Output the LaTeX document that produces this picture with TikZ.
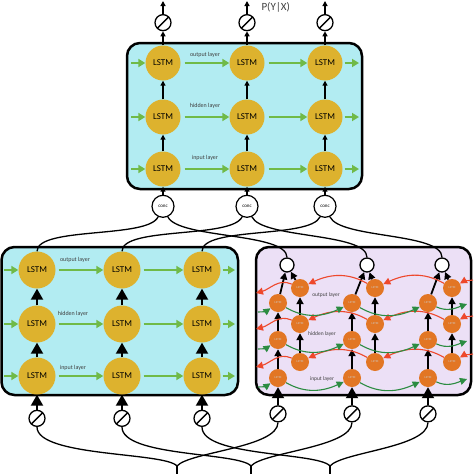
\documentclass[tikz,border=0pt]{standalone}
\usepackage{fontspec}
\setmainfont{Carlito}
\usetikzlibrary{arrows.meta,positioning,calc}
\definecolor{cyanbg}{RGB}{178,236,242}
\definecolor{lavbg}{RGB}{236,224,246}
\definecolor{gold}{RGB}{221,178,46}
\definecolor{orng}{RGB}{226,118,36}
\definecolor{lgreen}{RGB}{112,186,72}
\definecolor{dgreen}{RGB}{44,140,66}
\definecolor{wred}{RGB}{238,72,44}

\begin{document}
\begin{tikzpicture}[x=1pt, y=1pt,
  lstm/.style={circle, fill=gold, minimum size=35pt, inner sep=0pt,
               font=\fontsize{9}{9}\selectfont},
  mini/.style={circle, fill=orng, minimum size=18pt, inner sep=0pt,
               font=\fontsize{3}{3}\selectfont, text=white!80!black},
  drop/.style={circle, draw, line width=1.3pt, fill=white, minimum size=16pt,
               path picture={\draw[line width=1.3pt]
                 (path picture bounding box.south west)
                 -- (path picture bounding box.north east);}},
  concat/.style={circle, draw, line width=1.2pt, fill=white, minimum size=22pt,
                 inner sep=0pt, font=\fontsize{5}{5}\selectfont},
  sumc/.style={circle, draw, line width=1.3pt, fill=white, minimum size=14pt},
  panel/.style={draw, line width=2.5pt, rounded corners=13pt},
  tag/.style={font=\fontsize{6}{6}\selectfont, text=black!75},
  garr/.style={-{Triangle[length=7pt,width=8pt]}, line width=2.2pt, lgreen},
  tarr/.style={-{Triangle[length=5pt,width=5pt]}, line width=1.2pt},
  barr/.style={-{Triangle[length=11pt,width=12pt]}, line width=2pt},
  marr/.style={-{Triangle[length=7pt,width=7pt]}, line width=1.8pt},
  gwav/.style={-{Triangle[length=7pt,width=7pt]}, line width=1.1pt, dgreen},
  rwav/.style={-{Triangle[length=7pt,width=7pt]}, line width=1.1pt, wred},
  wire/.style={line width=1.3pt}
]
\useasboundingbox (0,0) rectangle (474,-474);

% panels
\draw[panel, fill=cyanbg] (127,-43) rectangle (362,-189);
\draw[panel, fill=cyanbg] (1.5,-247) rectangle (238,-395);
\draw[panel, fill=lavbg] (256,-247) rectangle (471,-395);

% top stack
\foreach \c/\x in {1/163, 2/247, 3/325} {
  \node[lstm] (t\c1) at (\x,-169) {LSTM};
  \node[lstm] (t\c2) at (\x,-117) {LSTM};
  \node[lstm] (t\c3) at (\x,-63) {LSTM};
  \draw[tarr] (t\c1) -- (t\c2);
  \draw[tarr] (t\c2) -- (t\c3);
  \node[drop, above=14pt of t\c3] (o\c) {};
  \coordinate (y\c) at (\x,-1);
  \draw[tarr] (t\c3) -- (o\c);
  \draw[tarr] (o\c) -- (y\c);
  \node[concat, below=8pt of t\c1] (c\c) {conc};
  \draw[tarr] (c\c) -- (t\c1);
}
\foreach \r/\y in {1/169, 2/117, 3/63} {
  \coordinate (ti\r) at (131,-\y);
  \coordinate (to\r) at (359,-\y);
  \draw[garr] (ti\r) -- (t1\r);
  \draw[garr, shorten <=4pt] (t1\r) -- (t2\r);
  \draw[garr, shorten <=4pt] (t2\r) -- (t3\r);
  \draw[garr, shorten <=2pt] (t3\r) -- (to\r);
}
\node[tag] (tout) at (205,-55) {output layer};
\node[tag] (thid) at (205,-106) {hidden layer};
\node[tag] (tin) at (205,-158) {input layer};
\node[font=\fontsize{11}{11}\selectfont, text=black!75, anchor=base west]
  (pyx) at (258,-10) {P(Y|X)};

% left stack
\foreach \c/\x in {1/37, 2/122, 3/202} {
  \node[lstm, minimum size=37pt] (l\c1) at (\x,-376) {LSTM};
  \node[lstm, minimum size=37pt] (l\c2) at (\x,-324) {LSTM};
  \node[lstm, minimum size=37pt] (l\c3) at (\x,-270) {LSTM};
  \draw[barr] (l\c1) -- (l\c2);
  \draw[barr] (l\c2) -- (l\c3);
  \node[drop, below=15pt of l\c1] (i\c) {};
  \draw[barr] (i\c) -- (l\c1);
}
\foreach \r/\y in {1/376, 2/324, 3/270} {
  \coordinate (li\r) at (4,-\y);
  \coordinate (lo\r) at (235,-\y);
  \draw[garr] (li\r) -- (l1\r);
  \draw[garr, shorten <=3pt] (l1\r) -- (l2\r);
  \draw[garr, shorten <=3pt] (l2\r) -- (l3\r);
  \draw[garr, shorten <=2pt] (l3\r) -- (lo\r);
}
\node[tag] (lout) at (75,-260) {output layer};
\node[tag] (lhid) at (73,-314) {hidden layer};
\node[tag] (lin) at (73,-368) {input layer};

% right stack (two directions)
\foreach \g/\f/\b/\p in {1/278/300/287, 2/352/375/367, 3/428/452/442} {
  \node[sumc] (p\g) at (\p,-265) {};
  \node[mini] (f\g1) at (\f,-378) {LSTM};
  \node[mini] (f\g2) at (\f,-340) {LSTM};
  \node[mini] (f\g3) at (\f,-303) {LSTM};
  \node[mini] (b\g1) at (\b,-362) {LSTM};
  \node[mini] (b\g2) at (\b,-324) {LSTM};
  \node[mini] (b\g3) at (\b,-288) {LSTM};
  \draw[marr] (f\g1) -- (f\g2);
  \draw[marr] (f\g2) -- (f\g3);
  \draw[marr] (f\g3) -- (p\g);
  \draw[marr] (b\g1) -- (b\g2);
  \draw[marr] (b\g2) -- (b\g3);
  \draw[marr] (b\g3) -- (p\g);
  \node[drop, below=18pt of f\g1] (k\g) {};
  \draw[barr] (k\g) -- (f\g1);
}
\foreach \r in {1,2,3} {
  \coordinate (gi\r) at ($(f1\r)+(-20,-9)$);
  \coordinate (go\r) at ($(f3\r)+(39,-1)$);
  \coordinate (ri\r) at ($(b3\r)+(21,8)$);
  \coordinate (ro\r) at ($(b1\r)+(-44,-5)$);
  \draw[gwav] (gi\r) to[out=0,in=215] (f1\r);
  \draw[gwav] (f1\r) to[out=-30,in=205] (f2\r);
  \draw[gwav] (f2\r) to[out=-30,in=205] (f3\r);
  \draw[gwav] (f3\r) to[out=-25,in=200] (go\r);
  \draw[rwav] (ri\r) to[out=190,in=30] (b3\r);
  \draw[rwav] (b3\r) to[out=150,in=25] (b2\r);
  \draw[rwav] (b2\r) to[out=150,in=25] (b1\r);
  \draw[rwav] (b1\r) to[out=155,in=15] (ro\r);
}
\node[tag, font=\fontsize{5.5}{5.5}\selectfont] (rout) at (326,-295) {output layer};
\node[tag, font=\fontsize{5.5}{5.5}\selectfont] (rhid) at (322,-334) {hidden layer};
\node[tag, font=\fontsize{5.5}{5.5}\selectfont] (rin) at (322,-379) {input layer};

% wires to the concatenations
\foreach \c in {1,2,3} {
  \draw[wire] (c\c.-115) .. controls +(-10,-22) and +(0,25) .. (l\c3.north);
  \draw[wire] (c\c.-65) .. controls +(10,-22) and +(0,25) .. (p\c.north);
}

% shared inputs
\foreach \c/\x in {1/177, 2/251, 3/330} {
  \coordinate (m\c) at (\x,-466);
  \coordinate (e\c) at (\x,-475);
  \draw[wire] (i\c.south) .. controls +(0,-30) and +(-12,14) .. (m\c);
  \draw[wire] (k\c.south) .. controls +(0,-25) and +(12,14) .. (m\c);
  \draw[wire] (m\c) -- (e\c);
}
\end{tikzpicture}
\end{document}
